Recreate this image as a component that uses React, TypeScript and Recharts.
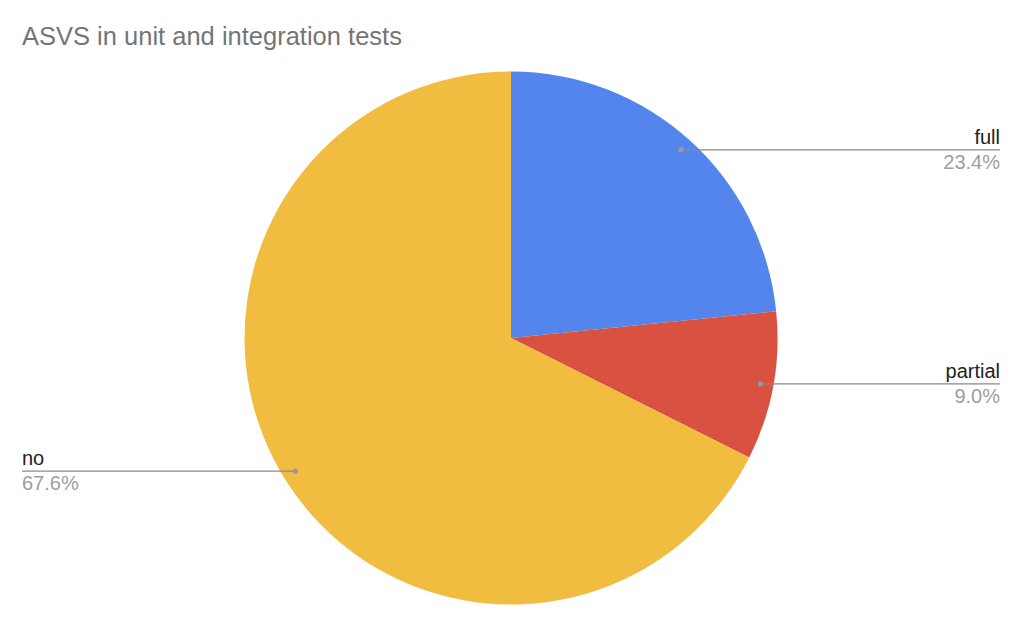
import React from 'react';
import { PieChart, Pie, Cell } from 'recharts';

const CATEGORIES = ['full', 'partial', 'no'];
const VALUES = [23.4, 9.0, 67.6];
const COLORS = ['#5385EC', '#D95140', '#F1BD41'];
const TITLE = 'ASVS in unit and integration tests';

const data = CATEGORIES.map((name, i) => ({ name, value: VALUES[i] }));

const FONT = '"Liberation Sans", Arial, sans-serif';
const RADIAN = Math.PI / 180;

const renderLabel = (props: any) => {
  const { cx, cy, midAngle, outerRadius, percent, name } = props;
  const r = outerRadius - 13;
  const x = cx + r * Math.cos(-midAngle * RADIAN);
  const y = cy + r * Math.sin(-midAngle * RADIAN);
  const right = Math.cos(-midAngle * RADIAN) >= 0;
  const endX = right ? 1000 : 22;
  const anchor = right ? 'end' : 'start';
  return (
    <g>
      <line x1={x} y1={y} x2={endX} y2={y} stroke="#8a8a8a" strokeWidth={1.2} />
      <circle cx={x} cy={y} r={2.6} fill="#9a9a9a" />
      <text x={endX} y={y - 6} textAnchor={anchor} fontFamily={FONT} fontSize={20} fill="#222222">
        {name}
      </text>
      <text x={endX} y={y + 19} textAnchor={anchor} fontFamily={FONT} fontSize={20} fill="#9e9e9e">
        {(percent * 100).toFixed(1) + '%'}
      </text>
    </g>
  );
};

export default function App() {
  return (
    <div style={{ position: 'absolute', left: 0, top: 0, width: 1024, height: 621, background: '#fff' }}>
      <div
        style={{
          position: 'absolute',
          left: 22,
          top: 21,
          fontFamily: FONT,
          fontSize: 25.5,
          color: '#757575',
          lineHeight: '30px',
          whiteSpace: 'nowrap',
        }}
      >
        {TITLE}
      </div>
      <PieChart
        width={1024}
        height={621}
        margin={{ top: 0, right: 0, bottom: 0, left: 0 }}
        style={{ position: 'absolute', left: 0, top: 0 }}
      >
        <Pie
          data={data}
          dataKey="value"
          nameKey="name"
          cx={511}
          cy={338}
          outerRadius={266.5}
          startAngle={90}
          endAngle={-270}
          stroke="none"
          label={renderLabel}
          labelLine={false}
          isAnimationActive={false}
        >
          {data.map((d, i) => (
            <Cell key={d.name} fill={COLORS[i]} />
          ))}
        </Pie>
      </PieChart>
    </div>
  );
}
